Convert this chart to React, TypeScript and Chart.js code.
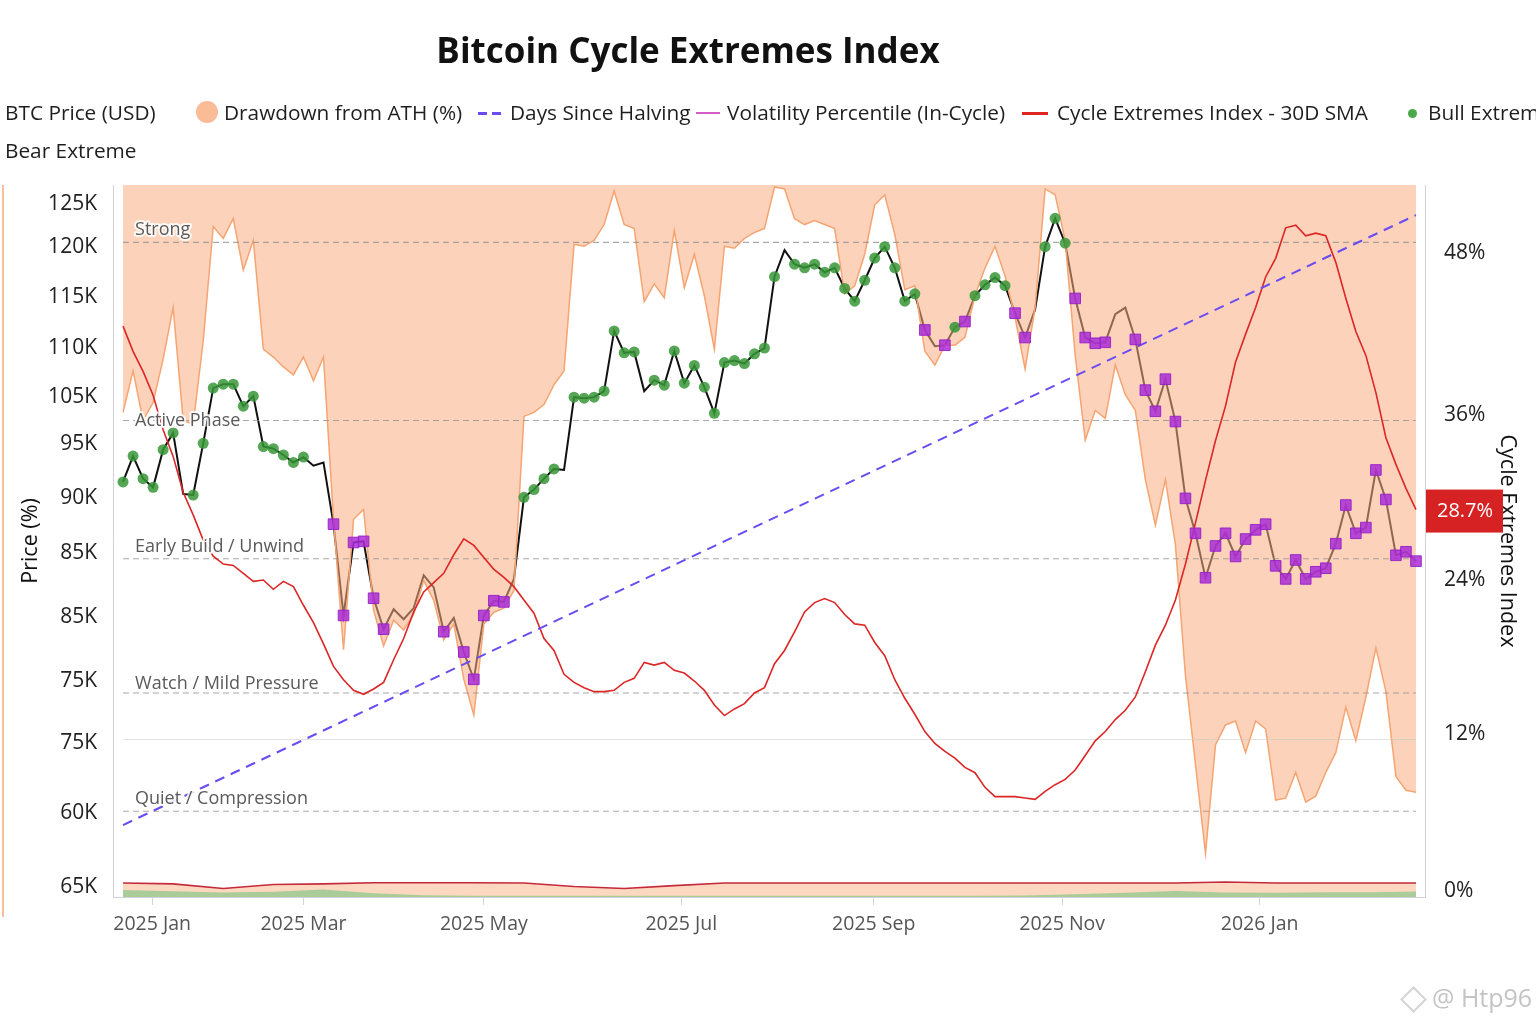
import { useEffect, useRef } from 'react';
import { Chart, registerables } from 'chart.js';

Chart.register(...registerables);

const FONT = '"Open Sans", "Noto Sans", sans-serif';

// x is a sample index (roughly one sample every 3 days, late Dec 2024 -> late Feb 2026)
const xTickValues = [2.9, 18.0, 36.0, 55.7, 74.9, 93.7, 113.4];
const xTickLabels = ['2025 Jan', '2025 Mar', '2025 May', '2025 Jul', '2025 Sep', '2025 Nov', '2026 Jan'];

// left axis labels, as printed on the reference
const priceTickValues = [125, 120, 114.3, 108.9, 103.9, 99.3, 94.35, 89.5, 84.2, 79.2, 74.6, 69.8, 65];
const priceTickLabels = ['125K', '120K', '115K', '110K', '105K', '95K', '90K', '85K', '85K', '75K', '75K', '60K', '65K'];

const indexTickValues = [0, 11.8, 23.4, 35.8, 48];
const indexTickLabels = ['0%', '12%', '24%', '36%', '48%'];

// BTC price, thousands of USD
const btcPrice = [
  95.8, 98.2, 96.1, 95.3, 98.8, 100.4, 94.7, 94.6, 99.4, 104.8,
  105.2, 105.2, 103.0, 104.0, 99.1, 98.9, 98.3, 97.6, 98.1, 97.3,
  97.6, 92.0, 84.3, 90.4, 90.5, 85.7, 83.2, 84.8, 84.0, 84.9,
  87.6, 86.6, 83.0, 84.1, 81.4, 79.3, 84.3, 85.5, 85.4, 87.3,
  94.4, 95.1, 96.1, 97.0, 96.9, 103.9, 103.8, 103.9, 104.5, 110.7,
  108.4, 108.5, 104.5, 105.6, 105.1, 108.6, 105.3, 107.1, 104.9, 102.3,
  107.4, 107.6, 107.3, 108.3, 108.9, 116.6, 119.6, 118.0, 117.6, 118.0,
  117.1, 117.6, 115.3, 113.9, 116.2, 118.7, 120.0, 117.6, 113.9, 114.7,
  110.8, 109.1, 109.2, 111.1, 111.7, 114.5, 115.7, 116.5, 115.6, 112.6,
  110.0, 113.0, 120.0, 123.3, 120.4, 114.2, 110.0, 109.4, 109.5, 112.5,
  113.2, 109.8, 104.6, 102.5, 105.7, 101.5, 94.3, 91.2, 87.4, 90.1,
  91.2, 89.2, 90.7, 91.5, 92.0, 88.4, 87.3, 88.9, 87.3, 87.9,
  88.2, 90.3, 93.7, 91.2, 91.7, 96.9, 94.2, 89.3, 89.6, 88.8,
];

// drawdown from ATH, %
const drawdown = [
  -11.5, -9.4, -11.9, -11.0, -8.8, -6.2, -11.9, -12.1, -7.9, -2.1,
  -2.7, -1.7, -4.3, -2.8, -8.3, -8.7, -9.2, -9.6, -8.7, -9.9,
  -8.7, -16.9, -23.5, -16.9, -16.4, -21.5, -23.3, -22.0, -22.5, -21.7,
  -20.0, -21.0, -23.0, -22.2, -25.0, -26.8, -22.2, -21.6, -21.4, -20.5,
  -11.7, -11.5, -11.1, -10.1, -9.4, -3.0, -3.1, -2.8, -2.0, -0.3,
  -2.0, -2.2, -5.9, -5.0, -5.7, -2.3, -5.2, -3.5, -5.6, -8.3,
  -3.1, -3.2, -2.7, -2.4, -2.2, -0.1, -0.2, -1.7, -2.0, -1.8,
  -2.0, -2.2, -5.5, -5.1, -3.5, -1.0, -0.5, -2.5, -5.3, -5.1,
  -8.4, -9.1, -8.1, -8.1, -7.7, -5.6, -4.2, -3.1, -4.6, -6.7,
  -9.3, -6.2, -0.2, -0.5, -2.8, -8.6, -12.9, -11.4, -11.8, -9.1,
  -10.6, -11.4, -14.9, -17.2, -14.9, -18.2, -24.8, -29.3, -33.8, -28.3,
  -27.3, -27.1, -28.7, -27.1, -27.5, -31.1, -31.0, -29.7, -31.2, -30.9,
  -29.7, -28.7, -26.4, -28.1, -25.9, -23.4, -25.6, -29.9, -30.6, -30.7,
];

// Cycle Extremes Index, 30D SMA, %
const cycleIndex = [
  42.5, 40.6, 39.1, 37.3, 34.7, 32.7, 30.0, 28.3, 26.4, 25.2,
  24.6, 24.5, 23.9, 23.3, 23.4, 22.7, 23.3, 22.9, 21.5, 20.2,
  18.6, 16.9, 15.9, 15.1, 14.8, 15.2, 15.7, 17.4, 19.0, 21.0,
  22.5, 23.2, 23.9, 25.3, 26.5, 26.0, 25.1, 24.2, 23.6, 22.9,
  21.9, 20.9, 19.0, 18.1, 16.3, 15.7, 15.3, 15.0, 15.0, 15.1,
  15.7, 16.0, 17.2, 17.0, 17.2, 16.6, 16.4, 15.8, 15.1, 14.0,
  13.2, 13.7, 14.1, 14.9, 15.3, 17.1, 18.1, 19.5, 21.0, 21.7,
  22.0, 21.7, 20.8, 20.1, 20.0, 18.7, 17.7, 15.9, 14.5, 13.3,
  12.0, 11.1, 10.5, 10.0, 9.3, 8.9, 7.8, 7.1, 7.1, 7.1,
  7.0, 6.9, 7.5, 8.0, 8.4, 9.1, 10.2, 11.3, 12.0, 12.9,
  13.6, 14.6, 16.5, 18.5, 20.0, 21.9, 24.6, 27.7, 30.9, 33.9,
  36.5, 39.8, 41.9, 43.9, 46.2, 47.6, 49.9, 50.1, 49.3, 49.5,
  49.3, 47.3, 44.6, 42.1, 40.3, 37.5, 34.1, 32.1, 30.3, 28.7,
];

// sample indices flagged as extremes
const bullDays = [
  0, 1, 2, 3, 4, 5, 7, 8, 9, 10, 11, 12, 13, 14, 15, 16, 17, 18,
  40, 41, 42, 43, 45, 46, 47, 48, 49, 50, 51, 53, 54, 55, 56, 57, 58, 59, 60, 61, 62, 63, 64, 65,
  67, 68, 69, 70, 71, 72, 73, 74, 75, 76, 77, 78, 79, 83, 85, 86, 87, 88, 92, 93, 94,
];
const bearDays = [
  21, 22, 23, 24, 25, 26, 32, 34, 35, 36, 37, 38, 80, 82, 84, 89, 90, 95, 96, 97, 98,
  101, 102, 103, 104, 105, 106, 107, 108, 109, 110, 111, 112, 113, 114, 115, 116, 117, 118, 119,
  120, 121, 122, 123, 124, 125, 126, 127, 128, 129,
];

// days since the April 2024 halving, first and last sample
const halvingX = [0, 129];
const halvingDays = [245, 673];

// bottom strip (volatility percentile band), sampled every 5th index
const stripX = [0, 5, 10, 15, 20, 25, 30, 35, 40, 45, 50, 55, 60, 65, 70, 75, 80, 85, 90, 95, 100, 105, 110, 115, 120, 125, 129];
const volStrip = [0.98, 0.92, 0.6, 0.88, 0.92, 1.0, 1.0, 1.0, 0.98, 0.74, 0.6, 0.8, 0.98, 0.98, 0.98, 0.98, 0.98, 0.98, 0.98, 0.98, 0.98, 0.98, 1.05, 0.98, 0.98, 0.98, 0.98];
const calmStrip = [0.5, 0.4, 0.32, 0.36, 0.53, 0.26, 0.12, 0.08, 0.08, 0.08, 0.08, 0.08, 0.08, 0.08, 0.08, 0.08, 0.08, 0.08, 0.1, 0.2, 0.3, 0.42, 0.32, 0.3, 0.33, 0.33, 0.38];

// regime thresholds on the index axis
const zoneLevels = [48.8, 35.4, 25.0, 14.9, 6.0];
const zoneNames = ['Strong', 'Active Phase', 'Early Build / Unwind', 'Watch / Mild Pressure', 'Quiet / Compression'];
const zoneLabelShift = [-13, 0, -12, -9, -12];
const faintLevel = 11.4;

const lastIdx = btcPrice.length - 1;
const pts = (arr: number[]) => arr.map((v, i) => ({ x: i, y: v }));
const flat = (v: number) => [{ x: 0, y: v }, { x: lastIdx, y: v }];

const overlayPlugin = {
  id: 'overlay',
  afterDatasetsDraw(chart: any) {
    const { ctx, scales } = chart;
    const x0 = scales.x.getPixelForValue(0) + 12;
    ctx.save();
    ctx.font = `18px ${FONT}`;
    ctx.textBaseline = 'middle';
    ctx.textAlign = 'left';
    ctx.lineJoin = 'round';
    zoneNames.forEach((name, i) => {
      const py = scales.cei.getPixelForValue(zoneLevels[i]) + zoneLabelShift[i];
      ctx.lineWidth = 4;
      ctx.strokeStyle = 'rgba(255,255,255,0.85)';
      ctx.strokeText(name, x0, py);
      ctx.fillStyle = '#5a5a5a';
      ctx.fillText(name, x0, py);
    });
    ctx.restore();
  },
  afterDraw(chart: any) {
    const { ctx, scales, chartArea } = chart;
    const last = cycleIndex[cycleIndex.length - 1];
    const py = scales.cei.getPixelForValue(last);
    const left = chartArea.right + 1;
    ctx.save();
    ctx.fillStyle = '#d62222';
    ctx.fillRect(left, py - 20, 77, 43);
    ctx.fillStyle = '#ffffff';
    ctx.font = `20px ${FONT}`;
    ctx.textAlign = 'center';
    ctx.textBaseline = 'middle';
    ctx.fillText(`${last.toFixed(1)}%`, left + 39, py + 2);
    ctx.restore();
  },
};

const legendText: React.CSSProperties = {
  position: 'absolute',
  fontFamily: FONT,
  fontSize: 20.8,
  color: '#1e1e1e',
  whiteSpace: 'nowrap',
  lineHeight: '28px',
};

export default function App() {
  const canvasRef = useRef<HTMLCanvasElement>(null);

  useEffect(() => {
    if (!canvasRef.current) return;
    Chart.defaults.font.family = FONT;

    const chart = new Chart(canvasRef.current, {
      type: 'line',
      data: {
        datasets: [
          {
            label: 'BTC Price (USD)',
            data: pts(btcPrice),
            yAxisID: 'price',
            borderColor: '#111111',
            borderWidth: 2,
            pointRadius: 0,
            order: 10,
          },
          {
            label: 'Drawdown from ATH (%)',
            data: pts(drawdown),
            yAxisID: 'dd',
            borderColor: '#f5a472',
            borderWidth: 1.5,
            backgroundColor: 'rgba(250,175,130,0.55)',
            fill: 'end',
            pointRadius: 0,
            order: 9,
          },
          {
            label: 'Volatility Percentile (In-Cycle)',
            data: volStrip.map((v, i) => ({ x: stripX[i], y: v })),
            yAxisID: 'strip',
            borderColor: '#c42a3c',
            borderWidth: 1.6,
            backgroundColor: 'rgba(250,190,150,0.6)',
            fill: 'origin',
            pointRadius: 0,
            order: 8,
          },
          {
            label: 'calm band',
            data: calmStrip.map((v, i) => ({ x: stripX[i], y: v })),
            yAxisID: 'strip',
            borderWidth: 0,
            backgroundColor: 'rgba(140,200,140,0.75)',
            fill: 'origin',
            pointRadius: 0,
            order: 7.9,
          },
          ...zoneLevels.map((lvl) => ({
            label: 'zone',
            data: flat(lvl),
            yAxisID: 'cei',
            borderColor: 'rgba(140,140,140,0.75)',
            borderWidth: 1.2,
            borderDash: [6, 4],
            pointRadius: 0,
            order: 7,
          })),
          {
            label: 'grid',
            data: flat(faintLevel),
            yAxisID: 'cei',
            borderColor: 'rgba(200,200,200,0.5)',
            borderWidth: 1,
            pointRadius: 0,
            order: 7,
          },
          {
            label: 'Cycle Extremes Index - 30D SMA',
            data: pts(cycleIndex),
            yAxisID: 'cei',
            borderColor: '#dc2626',
            borderWidth: 1.6,
            pointRadius: 0,
            order: 5,
          },
          {
            label: 'Days Since Halving',
            data: halvingDays.map((v, i) => ({ x: halvingX[i], y: v })),
            yAxisID: 'halving',
            borderColor: '#6a4cf2',
            borderWidth: 2,
            borderDash: [10, 7],
            pointRadius: 0,
            order: 4,
          },
          {
            label: 'Bull Extreme',
            data: bullDays.map((i) => ({ x: i, y: btcPrice[i] })),
            yAxisID: 'price',
            showLine: false,
            pointStyle: 'circle',
            pointRadius: 5.5,
            pointBorderWidth: 0,
            pointBackgroundColor: 'rgba(55,150,55,0.85)',
            order: 2,
          },
          {
            label: 'Bear Extreme',
            data: bearDays.map((i) => ({ x: i, y: btcPrice[i] })),
            yAxisID: 'price',
            showLine: false,
            pointStyle: 'rect',
            pointRadius: 7.5,
            pointBorderWidth: 1,
            pointBorderColor: 'rgba(150,30,200,0.9)',
            pointBackgroundColor: 'rgba(170,45,215,0.85)',
            order: 1,
          },
        ],
      },
      options: {
        responsive: false,
        animation: false,
        events: [],
        layout: { padding: { top: 185, left: 0, right: 0, bottom: 0 } },
        elements: { line: { tension: 0 } },
        plugins: {
          legend: { display: false },
          title: { display: false },
          tooltip: { enabled: false },
        },
        scales: {
          x: {
            type: 'linear',
            min: -1.0,
            max: 129.9,
            afterBuildTicks: (s: any) => {
              s.ticks = xTickValues.map((v) => ({ value: v }));
            },
            afterFit: (s: any) => {
              s.height = 127;
            },
            ticks: {
              autoSkip: false,
              maxRotation: 0,
              padding: 8,
              color: '#555555',
              font: { family: FONT, size: 19.5 },
              callback: (_v: any, i: number) => xTickLabels[i],
            },
            grid: { drawOnChartArea: false, tickLength: 8, color: '#d4d4d4' },
            border: { color: '#d2d2dc' },
          },
          price: {
            type: 'logarithmic',
            position: 'left',
            min: 64.38,
            max: 127.3,
            afterBuildTicks: (s: any) => {
              s.ticks = priceTickValues.map((v) => ({ value: v }));
            },
            afterFit: (s: any) => {
              s.width = 113;
            },
            ticks: {
              autoSkip: false,
              padding: 16,
              color: '#222222',
              font: { family: FONT, size: 21 },
              callback: (_v: any, i: number) => priceTickLabels[i],
            },
            grid: { display: false, drawTicks: false },
            border: { display: true, color: '#d2d2dc' },
            title: {
              display: true,
              text: 'Price (%)',
              color: '#111111',
              font: { family: FONT, size: 21.5 },
              padding: { top: 18, bottom: 0 },
            },
          },
          cei: {
            type: 'linear',
            position: 'right',
            min: -0.45,
            max: 53.12,
            afterBuildTicks: (s: any) => {
              s.ticks = indexTickValues.map((v) => ({ value: v }));
            },
            afterFit: (s: any) => {
              s.width = 111;
            },
            ticks: {
              autoSkip: false,
              padding: 19,
              color: '#222222',
              font: { family: FONT, size: 21 },
              callback: (_v: any, i: number) => indexTickLabels[i],
            },
            grid: { display: false, drawTicks: false },
            border: { display: true, color: '#d2d2dc' },
            title: {
              display: true,
              text: 'Cycle Extremes Index',
              color: '#111111',
              font: { family: FONT, size: 21.5 },
              padding: { top: 16, bottom: 0 },
            },
          },
          halving: { type: 'linear', display: false, min: 194.5, max: 694.1 },
          dd: { type: 'linear', display: false, min: -36, max: 0 },
          strip: { type: 'linear', display: false, min: 0, max: 50 },
        },
      },
      plugins: [overlayPlugin],
    } as any);

    return () => chart.destroy();
  }, []);

  return (
    <div style={{ position: 'fixed', inset: 0, background: '#ffffff', overflow: 'hidden' }}>
      <canvas ref={canvasRef} width={1536} height={1024} style={{ position: 'absolute', left: 0, top: 0 }} />
      <div style={{ position: 'absolute', left: 2, top: 185, width: 2, height: 732, background: '#f8bf9c' }} />
      <div
        style={{
          position: 'absolute',
          left: 0,
          width: 1376,
          top: 25,
          textAlign: 'center',
          fontFamily: FONT,
          fontWeight: 700,
          fontSize: 35,
          lineHeight: '50px',
          color: '#111111',
        }}
      >
        Bitcoin Cycle Extremes Index
      </div>
      <span style={{ ...legendText, left: 5, top: 98 }}>BTC Price (USD)</span>
      <span style={{ position: 'absolute', left: 196, top: 101, width: 22, height: 22, borderRadius: 11, background: 'rgba(249,180,140,0.9)' }} />
      <span style={{ ...legendText, left: 224, top: 98 }}>Drawdown from ATH (%)</span>
      <span style={{ position: 'absolute', left: 478, top: 112, width: 9, height: 3, background: '#6a4cf2' }} />
      <span style={{ position: 'absolute', left: 492, top: 112, width: 9, height: 3, background: '#6a4cf2' }} />
      <span style={{ ...legendText, left: 510, top: 98 }}>Days Since Halving</span>
      <span style={{ position: 'absolute', left: 696, top: 112, width: 24, height: 2, background: '#d25ec6' }} />
      <span style={{ ...legendText, left: 727, top: 98 }}>Volatility Percentile (In-Cycle)</span>
      <span style={{ position: 'absolute', left: 1022, top: 112, width: 26, height: 3, background: '#e02424' }} />
      <span style={{ ...legendText, left: 1057, top: 98 }}>Cycle Extremes Index - 30D SMA</span>
      <span style={{ position: 'absolute', left: 1408, top: 109, width: 9, height: 9, borderRadius: 5, background: '#4aa84a' }} />
      <span style={{ ...legendText, left: 1428, top: 98 }}>Bull Extreme</span>
      <span style={{ ...legendText, left: 5, top: 136 }}>Bear Extreme</span>
      <span style={{ position: 'absolute', left: 1404, top: 990, width: 15, height: 15, border: '2px solid #d4d4d4', transform: 'rotate(45deg)' }} />
      <span style={{ position: 'absolute', left: 1432, top: 980, fontFamily: FONT, fontSize: 25, color: '#c4c4c4', whiteSpace: 'nowrap' }}>@ Htp96</span>
    </div>
  );
}
